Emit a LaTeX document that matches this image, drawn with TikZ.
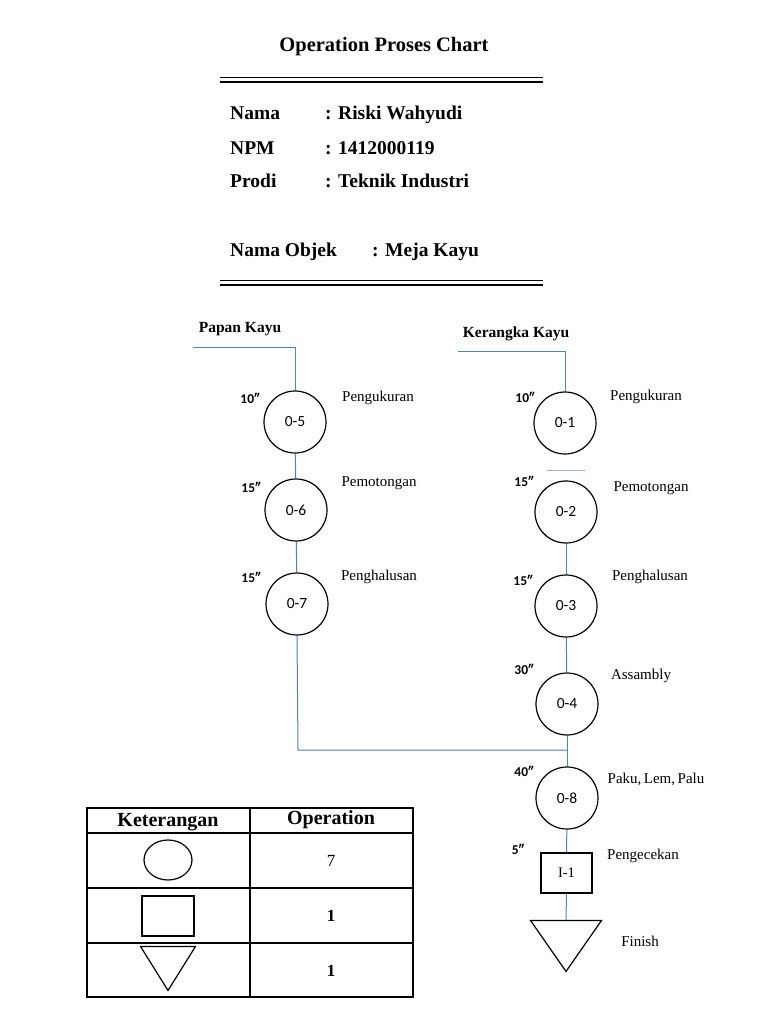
\documentclass[tikz,border=0pt]{standalone}
\usepackage{fontspec}
\setmainfont{Liberation Serif}
\newfontfamily\calfont{Carlito}
\usetikzlibrary{shapes.geometric}
\definecolor{flowblue}{RGB}{79,129,189}
\tikzset{
  op/.style={draw=black, line width=1.2pt, circle, minimum size=62pt, inner sep=0pt, font=\calfont\fontsize{15.5}{18}\selectfont},
  insp/.style={draw=black, line width=1.2pt, rectangle, minimum width=51pt, minimum height=40pt, inner sep=0pt, font=\fontsize{14.5}{17}\selectfont},
  fin/.style={draw=black, line width=1.2pt, isosceles triangle, shape border rotate=-90, isosceles triangle stretches, minimum width=71pt, minimum height=51pt, inner sep=0pt},
  flow/.style={draw=flowblue, line width=1pt},
  tm/.style={font=\calfont\bfseries\fontsize{13.5}{16}\selectfont},
  act/.style={font=\fontsize{15}{18}\selectfont},
  hdr/.style={font=\bfseries\fontsize{19.5}{23}\selectfont, anchor=base west, inner sep=0pt},
  src/.style={font=\bfseries\fontsize{15.5}{18}\selectfont},
  tbl/.style={draw=black, line width=1.2pt},
  tbh/.style={font=\bfseries\fontsize{20}{23}\selectfont}
}
\begin{document}
\begin{tikzpicture}[x=1pt,y=-1pt]
\useasboundingbox[fill=white] (0,0) rectangle (768,1024);
% header
\node[font=\bfseries\fontsize{20.5}{24}\selectfont] (title) at (384,47) {Operation Proses Chart};
\draw[line width=0.8pt] (220,77.5) -- (543,77.5);
\draw[line width=2pt] (220,82.5) -- (543,82.5);
\node[hdr] (l1) at (230,120) {Nama};
\node[hdr] (v1) at (325,120) {: Riski Wahyudi};
\node[hdr] (l2) at (230,155) {NPM};
\node[hdr] (v2) at (325,155) {: 1412000119};
\node[hdr] (l3) at (230,188) {Prodi};
\node[hdr] (v3) at (325,188) {: Teknik Industri};
\node[hdr] (l4) at (230,256) {Nama Objek};
\node[hdr] (v4) at (372,256) {: Meja Kayu};
\draw[line width=0.8pt] (220,280) -- (543,280);
\draw[line width=2pt] (220,285) -- (543,285);
% left branch
\node[src] (papan) at (240,329) {Papan Kayu};
\coordinate (ps) at (193,347);
\coordinate (pc) at (295,347);
\node[op] (o5) at (295,422) {0-5};
\node[op] (o6) at (296,510) {0-6};
\node[op] (o7) at (297,604) {0-7};
\node[tm] at (250,398) {10″};
\node[tm] at (251,487) {15″};
\node[tm] at (251,577) {15″};
\node[act] at (378,398) {Pengukuran};
\node[act] at (379,483) {Pemotongan};
\node[act] at (379,577) {Penghalusan};
% right branch
\node[src] (kerangka) at (516,334) {Kerangka Kayu};
\coordinate (ks) at (458,351);
\coordinate (kc) at (565,351);
\node[op] (o1) at (565,423) {0-1};
\node[op] (o2) at (566,512) {0-2};
\node[op] (o3) at (566,606) {0-3};
\node[op] (o4) at (567,704) {0-4};
\node[op] (o8) at (567,798) {0-8};
\node[insp] (i1) at (566.5,873) {I-1};
\node[fin, anchor=apex] (f) at (566,973) {};
\node[tm] at (525,397) {10″};
\node[tm] at (524,481) {15″};
\node[tm] at (523,580) {15″};
\node[tm] at (524,669) {30″};
\node[tm] at (524,771) {40″};
\node[tm] at (518,849) {5″};
\node[act] at (646,397) {Pengukuran};
\node[act] at (651,488) {Pemotongan};
\node[act] at (650,577) {Penghalusan};
\node[act] at (641,676) {Assambly};
\node[act] at (656,779) {Paku,\,Lem,\,Palu};
\node[act] at (643,856) {Pengecekan};
\node[act] at (640,941) {Finish};
\coordinate (stub1) at (547,470);
\coordinate (stub2) at (585,470);
\coordinate (jl) at (298,750);
\coordinate (jr) at (567,750);
% connectors
\draw[flow] (ps) -- (pc) -- (o5.north);
\draw[flow] (o5) -- (o6);
\draw[flow] (o6) -- (o7);
\draw[flow] (o7.south) -- (jl) -- (jr);
\draw[flow] (ks) -- (kc) -- (o1.north);
\draw[flow, draw opacity=0.6] (stub1) -- (stub2);
\draw[flow] (o2) -- (o3);
\draw[flow] (o3) -- (o4);
\draw[flow] (o4) -- (o8);
\draw[flow] (o8) -- (i1);
\draw[flow] (i1.south) -- (f.lower side);
% legend table
\draw[tbl] (87,808) rectangle (413,997);
\draw[tbl] (250,808) -- (250,997);
\draw[tbl] (87,833) -- (413,833);
\draw[tbl] (87,888) -- (413,888);
\draw[tbl] (87,943) -- (413,943);
\node[tbh] (kh) at (168,822) {Keterangan};
\node[tbh] (oh) at (331,820) {Operation};
\node[draw=black, line width=1.2pt, ellipse, minimum width=48pt, minimum height=40pt, inner sep=0pt] (le) at (168,860) {};
\node[draw=black, line width=1.2pt, rectangle, minimum width=52pt, minimum height=40pt, inner sep=0pt] (lr) at (168,916) {};
\node[draw=black, line width=1.2pt, isosceles triangle, shape border rotate=-90, isosceles triangle stretches, minimum width=55pt, minimum height=44pt, inner sep=0pt, anchor=apex] (lt) at (168,992) {};
\node[font=\fontsize{17}{20}\selectfont] (n1) at (331,861) {7};
\node[font=\bfseries\fontsize{17}{20}\selectfont] (n2) at (331,916) {1};
\node[font=\bfseries\fontsize{17}{20}\selectfont] (n3) at (331,971) {1};
\end{tikzpicture}
\end{document}
